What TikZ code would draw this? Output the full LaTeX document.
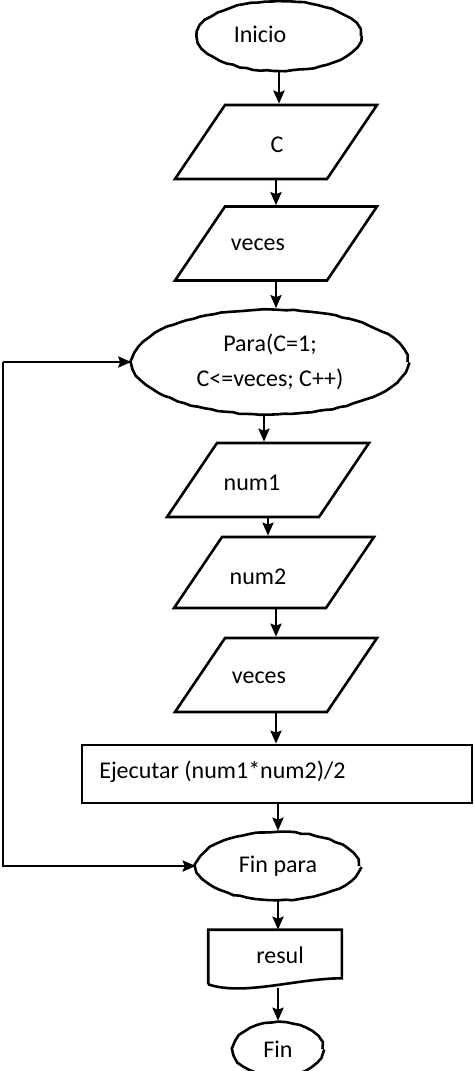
\documentclass[tikz,border=0pt]{standalone}
\usepackage{fontspec}
\setmainfont{Carlito}
\usetikzlibrary{shapes.geometric, arrows.meta, decorations.pathmorphing}
\pgfmathsetseed{7}

\begin{document}
\begin{tikzpicture}[x=1pt, y=-1pt,
		line width=2.6pt,
		every node/.style={font=\fontsize{24}{35}\selectfont, inner sep=0pt},
		term/.style={ellipse, draw, decorate, decoration={random steps, segment length=7pt, amplitude=0.6pt}},
		io/.style={rectangle, draw, xslant=0.676, minimum width=152, minimum height=74},
		proc/.style={rectangle, draw, minimum width=390, minimum height=58},
		arr/.style={-{Stealth[length=13pt, width=11pt, inset=2pt]}}]
				\useasboundingbox (0, 0) rectangle (474, 1071);
				\node[term, minimum width=164, minimum height=70] (inicio) at (279, 36) {};
				\node (tinicio) at (260, 34) {Inicio};
				\node[io] (c) at (276, 142) {};
				\node (tc) at (277, 145) {C};
				\node[io] (veces) at (276, 243.5) {};
				\node (tveces) at (258, 245) {veces};
				\node[term, minimum width=275, minimum height=105, align=center] (para) at (270, 362) {Para(C=1;\\C<=veces; C++)};
				\node[io] (num1) at (268, 480) {};
				\node (tnum1) at (252, 483) {num1};
				\node[io, minimum height=71] (num2) at (274, 572.5) {};
				\node (tnum2) at (258, 577) {num2};
				\node[io] (veces2) at (276, 675) {};
				\node (tveces2) at (259, 678) {veces};
				\node[proc] (ejec) at (277, 774) {};
				\node[anchor=west] (tejec) at (98, 772) {Ejecutar (num1*num2)/2};
				\node[term, minimum width=162, minimum height=68] (finpara) at (278, 866) {Fin para};
				\node[minimum width=131, minimum height=52] (res) at (275, 957) {};
				\node (tres) at (280, 955) {resul};
				\node[term, minimum width=89, minimum height=54] (fin) at (278, 1049) {Fin};
				\coordinate (loop) at (3, 363);
				\draw (res.south west) -- (res.north west) -- (res.north east) -- ([yshift=6pt]res.south east)
					.. controls ([xshift=-45pt, yshift=6pt]res.south east) and ([xshift=35pt, yshift=-12pt]res.south west) .. (res.south west);
				\draw[arr] (inicio.south) -- (inicio.south |- c.north);
				\draw[arr] (c.center |- c.south) -- (c.center |- veces.north);
				\draw[arr] (veces.center |- veces.south) -- (veces.center |- para.north);
				\draw[arr] ([xshift=-6pt]para.south) -- ([xshift=-6pt]para.south |- num1.north);
				\draw[arr] (num1.center |- num1.south) -- (num1.center |- num2.north);
				\draw[arr] (veces2.center |- num2.south) -- (veces2.center |- veces2.north);
				\draw[arr] (veces2.center |- veces2.south) -- (veces2.center |- ejec.north);
				\draw[arr] (ejec.south -| finpara.north) -- (finpara.north);
				\draw[arr] (finpara.south) -- (finpara.south |- res.north);
				\draw[arr] ([yshift=-4pt]res.south -| fin.north) -- (fin.north);
				\draw[arr] (para.west -| loop) -- (para.west);
				\draw[arr] (para.west -| loop) |- (finpara.west);
			\end{tikzpicture}
\end{document}
